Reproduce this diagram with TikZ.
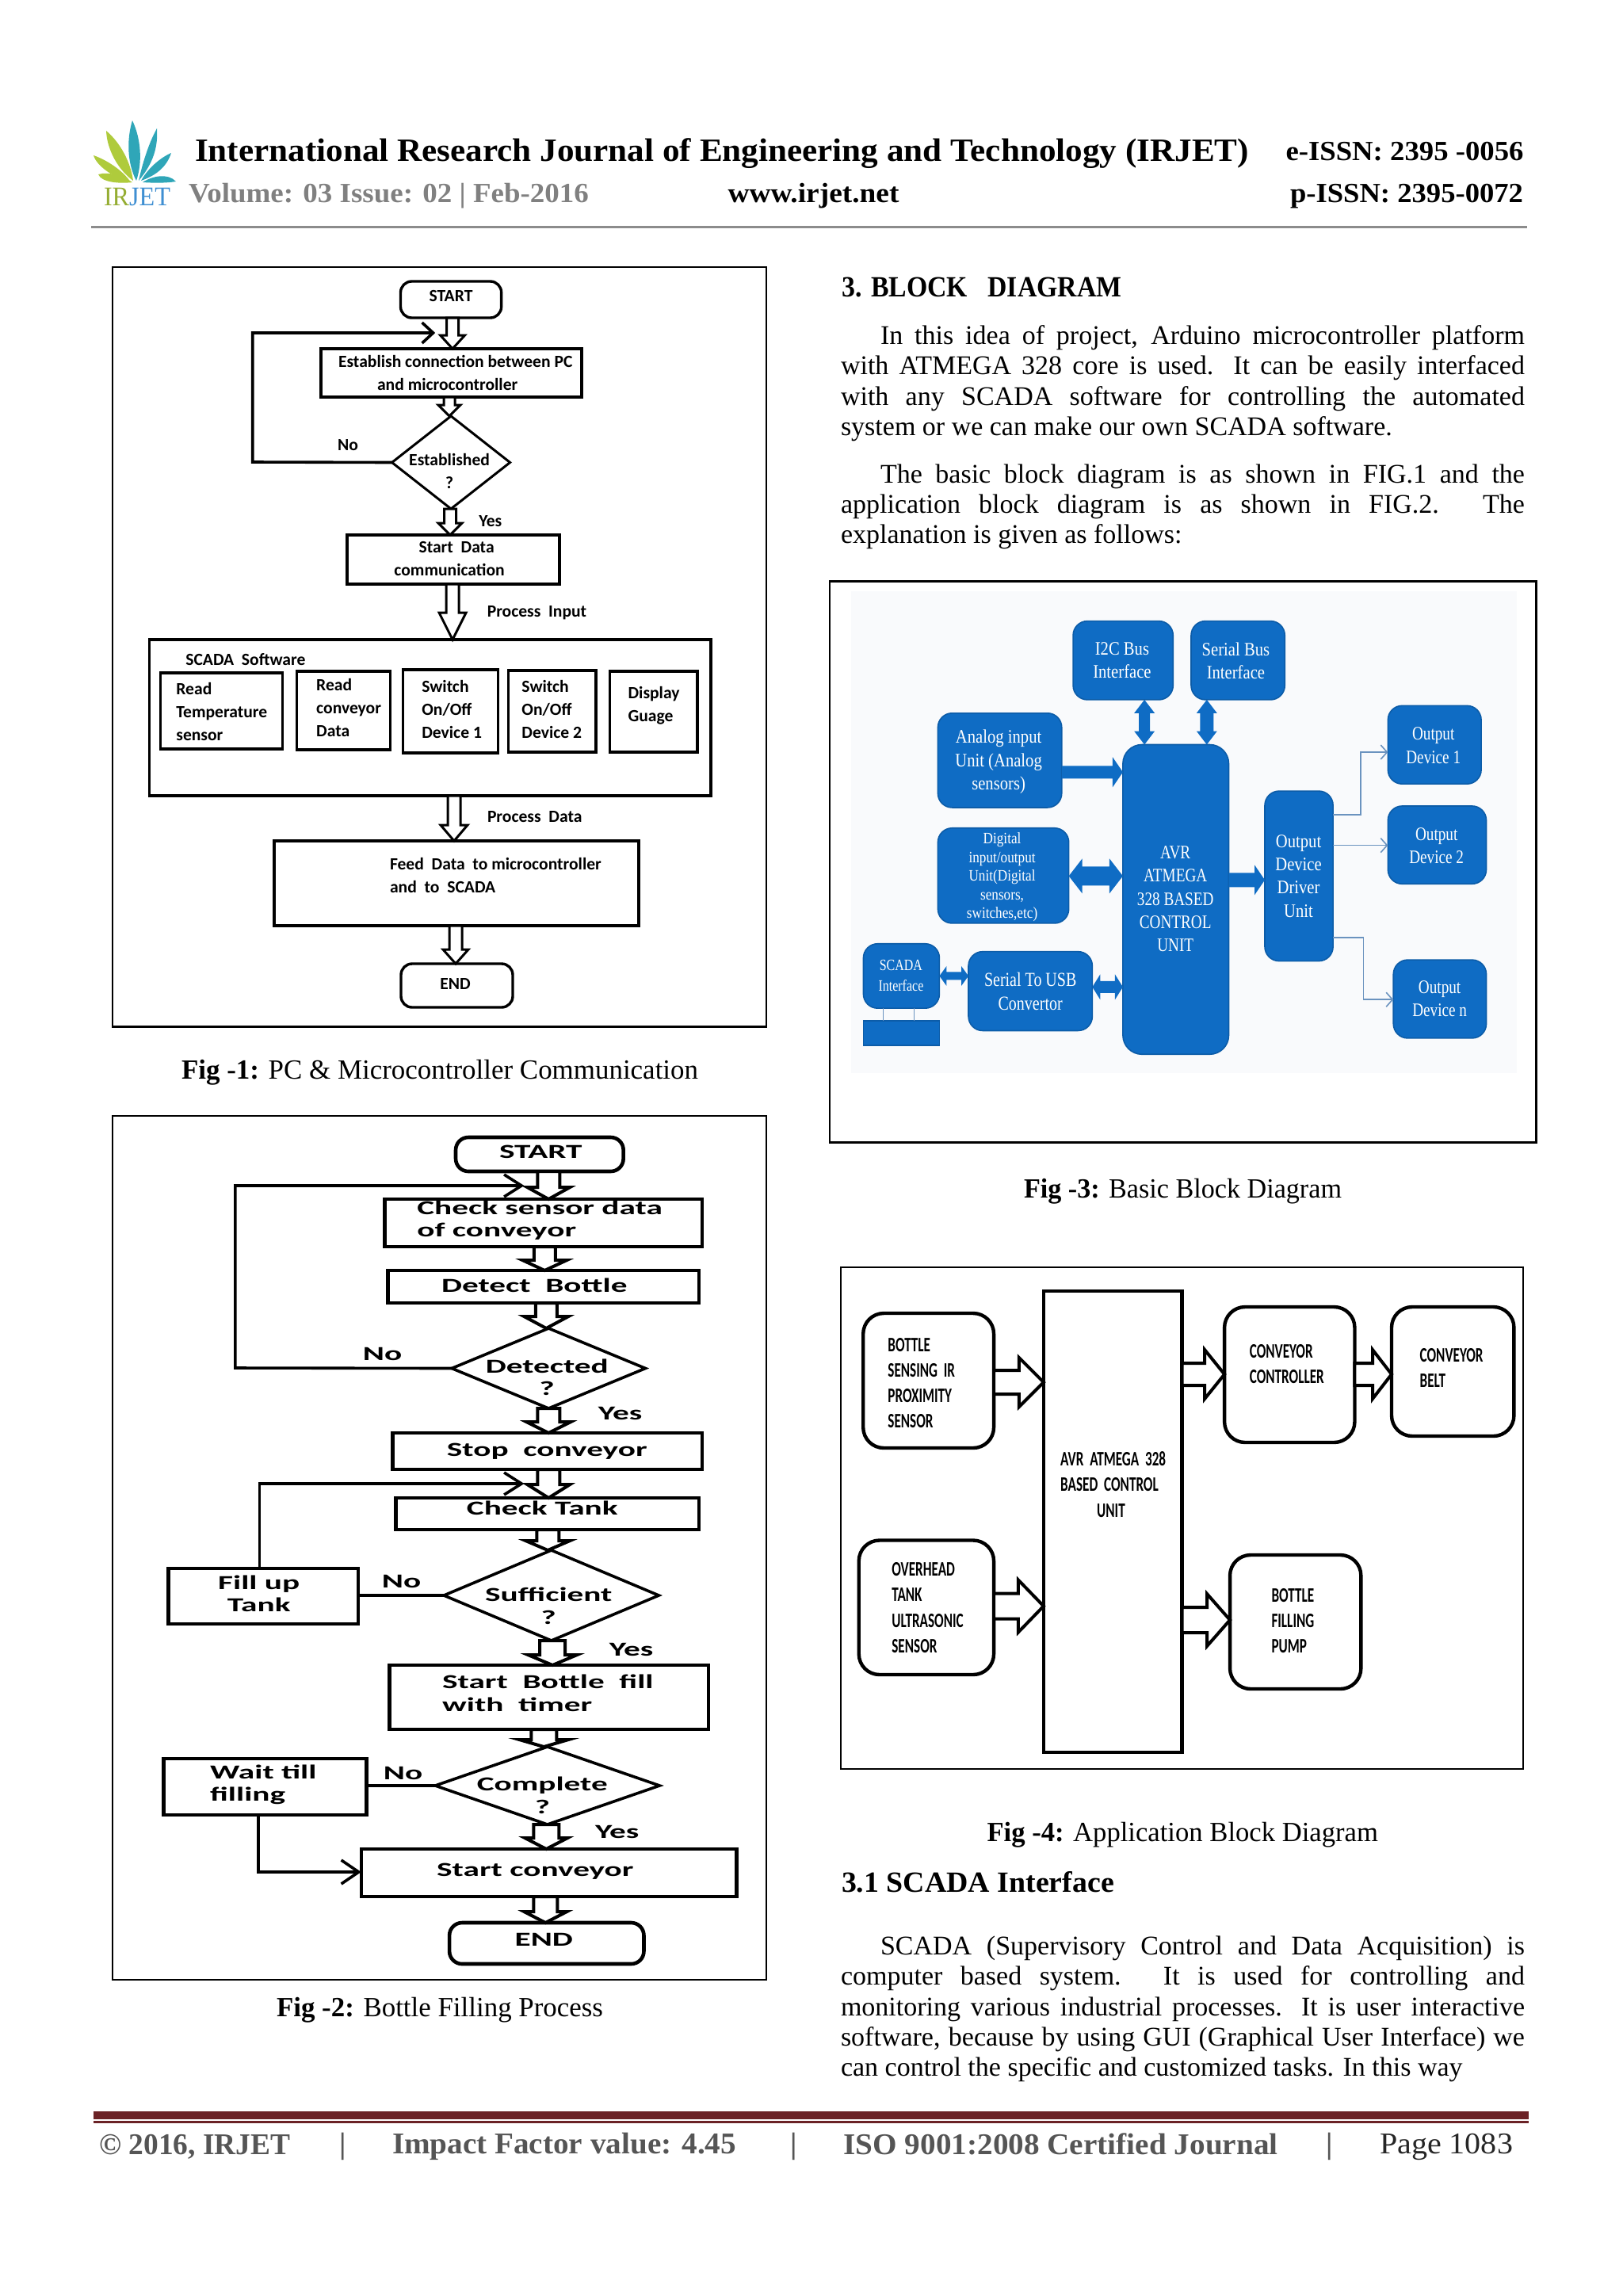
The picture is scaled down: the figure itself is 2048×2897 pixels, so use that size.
\documentclass[tikz,border=0pt]{standalone}
\usepackage{fontspec}
\usepackage{graphicx}
\usetikzlibrary{shapes.geometric,arrows.meta,calc}
\setmainfont{Liberation Serif}
\newfontfamily\fbody{Liberation Serif}
\newfontfamily\fa{Carlito}
\newfontfamily\fb{Carlito}[FakeStretch=1.65]
\newfontfamily\fc{Carlito}[FakeStretch=.66]
\newfontfamily\fd{Liberation Serif}[FakeStretch=.8]
\newfontfamily\fe{Liberation Serif}[FakeStretch=.86]
\definecolor{fblue}{HTML}{0F6CC4}
\definecolor{fbord}{HTML}{0C5CA8}
\definecolor{thinb}{HTML}{6B93BF}
\definecolor{hgray}{HTML}{808080}
\definecolor{fgray}{HTML}{555555}
\definecolor{band}{HTML}{6B2226}
\definecolor{tealg}{HTML}{2FA6B8}
\definecolor{leafg}{HTML}{AFCB3C}
\definecolor{irb}{HTML}{3F8FD2}
\definecolor{bgf}{HTML}{F9FAFC}
\newcounter{tc}
\def\kx{1}\def\ox{0}\def\ky{1}\def\oy{0}
\newcommand\mys{\vrule width 0pt height .84em depth .16em\relax}
\newcommand\bx[6][box]{%
 \pgfmathsetmacro\cxx{((#3+#5)/2*\kx+\ox)*.5}%
 \pgfmathsetmacro\cyy{-((#4+#6)/2*\ky+\oy)*.5}%
 \pgfmathsetmacro\bww{(#5-#3)*\kx*.5}%
 \pgfmathsetmacro\bhh{(#6-#4)*\ky*.5}%
 \node[#1,minimum width=\bww pt,minimum height=\bhh pt] (#2) at (\cxx pt,\cyy pt) {};}
\newcommand\tx[4][]{\stepcounter{tc}%
 \pgfmathsetmacro\tcx{(#2*\kx+\ox)*.5}\pgfmathsetmacro\tcy{-(#3*\ky+\oy)*.5}%
 \node[txt,#1] (t\arabic{tc}) at (\tcx pt,\tcy pt) {#4};}
\newcommand\cn[3]{%
 \pgfmathsetmacro\tcx{(#2*\kx+\ox)*.5}\pgfmathsetmacro\tcy{-(#3*\ky+\oy)*.5}%
 \coordinate (#1) at (\tcx pt,\tcy pt);}
% vertical block arrow: from,to,x,shaft half,head half,head length (px)
\newcommand\varrow[7][hollow]{%
 \pgfmathsetmacro\ax{(#4*\kx+\ox)*.5}\pgfmathsetmacro\bsw{#5*.5}\pgfmathsetmacro\bhw{#6*.5}\pgfmathsetmacro\bhl{#7*.5}%
 \draw[#1] let \p1=(#2.south),\p2=(#3.north) in
 (\ax pt-\bsw pt,\y1) -- (\ax pt+\bsw pt,\y1) -- (\ax pt+\bsw pt,\y2+\bhl pt) -- (\ax pt+\bhw pt,\y2+\bhl pt) -- (\ax pt,\y2) -- (\ax pt-\bhw pt,\y2+\bhl pt) -- (\ax pt-\bsw pt,\y2+\bhl pt) -- cycle;}
% horizontal block arrow: from,to,y,shaft half,head half,head length (px)
\newcommand\harrow[7][hollow]{%
 \pgfmathsetmacro\ay{-(#4*\ky+\oy)*.5}\pgfmathsetmacro\bsw{#5*.5}\pgfmathsetmacro\bhw{#6*.5}\pgfmathsetmacro\bhl{#7*.5}%
 \draw[#1] let \p1=(#2.east),\p2=(#3.west) in
 (\x1,\ay pt+\bsw pt) -- (\x2-\bhl pt,\ay pt+\bsw pt) -- (\x2-\bhl pt,\ay pt+\bhw pt) -- (\x2,\ay pt) -- (\x2-\bhl pt,\ay pt-\bhw pt) -- (\x2-\bhl pt,\ay pt-\bsw pt) -- (\x1,\ay pt-\bsw pt) -- cycle;}
\newcommand\dvarrow[6]{%
 \pgfmathsetmacro\ax{(#3*\kx+\ox)*.5}\pgfmathsetmacro\bsw{#4*.5}\pgfmathsetmacro\bhw{#5*.5}\pgfmathsetmacro\bhl{#6*.5}%
 \fill[fblue] let \p1=(#1.south),\p2=(#2.north) in
 (\ax pt,\y1) -- (\ax pt+\bhw pt,\y1-\bhl pt) -- (\ax pt+\bsw pt,\y1-\bhl pt) -- (\ax pt+\bsw pt,\y2+\bhl pt) -- (\ax pt+\bhw pt,\y2+\bhl pt) -- (\ax pt,\y2) -- (\ax pt-\bhw pt,\y2+\bhl pt) -- (\ax pt-\bsw pt,\y2+\bhl pt) -- (\ax pt-\bsw pt,\y1-\bhl pt) -- (\ax pt-\bhw pt,\y1-\bhl pt) -- cycle;}
\newcommand\dharrow[6]{%
 \pgfmathsetmacro\ay{-(#3*\ky+\oy)*.5}\pgfmathsetmacro\bsw{#4*.5}\pgfmathsetmacro\bhw{#5*.5}\pgfmathsetmacro\bhl{#6*.5}%
 \fill[fblue] let \p1=(#1.east),\p2=(#2.west) in
 (\x1,\ay pt) -- (\x1+\bhl pt,\ay pt+\bhw pt) -- (\x1+\bhl pt,\ay pt+\bsw pt) -- (\x2-\bhl pt,\ay pt+\bsw pt) -- (\x2-\bhl pt,\ay pt+\bhw pt) -- (\x2,\ay pt) -- (\x2-\bhl pt,\ay pt-\bhw pt) -- (\x2-\bhl pt,\ay pt-\bsw pt) -- (\x1+\bhl pt,\ay pt-\bsw pt) -- (\x1+\bhl pt,\ay pt-\bhw pt) -- cycle;}
\tikzset{
 x=.5pt,y=-.5pt,
 txt/.style={inner sep=0pt,outer sep=0pt,align=left,execute at begin node=\mys,execute at end node=\mys},
 framebox/.style={draw=black,line width=1.2pt,inner sep=0pt,outer sep=0pt,fill=none},
 box/.style={draw=black,line width=1.7pt,inner sep=0pt,outer sep=0pt},
 boxb/.style={draw=black,line width=2.3pt,inner sep=0pt,outer sep=0pt},
 rbox/.style={box,rounded corners=7pt},
 rboxb/.style={boxb,rounded corners=8pt},
 rboxc/.style={draw=black,line width=2.2pt,inner sep=0pt,outer sep=0pt,rounded corners=13pt},
 dia/.style={diamond,draw=black,line width=1.5pt,inner sep=0pt,outer sep=0pt},
 diab/.style={diamond,draw=black,line width=1.8pt,inner sep=0pt,outer sep=0pt},
 hollow/.style={draw=black,line width=1.5pt,fill=white,line join=miter},
 hollowb/.style={draw=black,line width=2pt,fill=white,line join=miter},
 conn/.style={draw=black,line width=1.8pt},
 bluebox/.style={draw=fbord,line width=.8pt,fill=fblue,rounded corners=9pt,inner sep=0pt,outer sep=0pt},
 blues/.style={draw=none,fill=fblue},
 thinc/.style={draw=thinb,line width=.8pt,-{Straight Barb[length=4pt,width=9pt]}},
 ta/.style={font=\fa\bfseries\fontsize{10.8}{14.5}\selectfont},
 tb/.style={font=\fb\bfseries\fontsize{12.5}{14.2}\selectfont},
 tc/.style={font=\fc\bfseries\fontsize{13}{16.1}\selectfont},
 td/.style={font=\fd\fontsize{12}{14.6}\selectfont,text=white,align=center,yshift=-2pt},
 te/.style={font=\fe\fontsize{12}{14.6}\selectfont,text=white,align=center,yshift=-2pt},
 bodytxt/.style={font=\fbody\fontsize{17}{19.17}\selectfont,anchor=west,text width=431.5pt,align=justify},
 captxt/.style={font=\fbody\fontsize{17.5}{20}\selectfont,anchor=west},
 hd/.style={font=\fbody\fontsize{18.5}{22}\selectfont\bfseries,anchor=west},
 hdr/.style={font=\fbody\fontsize{17.5}{20}\selectfont\bfseries,anchor=west},
 ftr/.style={font=\fbody\fontsize{19}{22}\selectfont\bfseries,anchor=west,text=fgray},
}
\newcommand\bodysetup{\spaceskip=.25em plus .6em minus .2em\relax\tolerance=10000\hbadness=10000\hfuzz=20pt\emergencystretch=0pt}
\begin{document}
\begin{tikzpicture}
\useasboundingbox (0,0) rectangle (2048,2897);
% ---- header: logo
\fill[tealg] (167,152) .. controls (160,175) and (160,205) .. (172,228) .. controls (180,205) and (178,175) .. (167,152) -- cycle;
\fill[tealg] (198,162) .. controls (188,180) and (180,205) .. (175,228) .. controls (190,210) and (200,190) .. (198,162) -- cycle;
\fill[tealg] (216,193) .. controls (200,200) and (185,215) .. (178,228) .. controls (195,222) and (210,212) .. (216,193) -- cycle;
\fill[leafg] (134,165) .. controls (135,190) and (150,215) .. (168,228) .. controls (165,205) and (152,180) .. (134,165) -- cycle;
\fill[leafg] (118,196) .. controls (122,210) and (145,225) .. (165,230) .. controls (155,215) and (135,202) .. (118,196) -- cycle;
\fill[leafg] (124,220) .. controls (128,230) and (150,232) .. (167,230) .. controls (155,222) and (138,216) .. (124,220) -- cycle;
\fill[tealg] (222,229) .. controls (212,218) and (192,222) .. (180,230) .. controls (195,231) and (210,231) .. (222,229) -- cycle;
\tx[anchor=west,font=\fbody\fontsize{17}{20}\selectfont]{131}{248}{\resizebox{42pt}{\height}{\textcolor{leafg!85!black}{IR}\textcolor{irb}{JET}}}
\tx[hdr,font=\fbody\fontsize{20.5}{24}\selectfont\bfseries]{246}{191}{\resizebox{665pt}{\height}{International Research Journal of Engineering and Technology (IRJET)}}
\tx[hdr]{1622.5}{191}{\resizebox{150pt}{\height}{e-ISSN: 2395 -0056}}
\tx[hdr,text=hgray]{238}{245}{\resizebox{252.5pt}{\height}{Volume: 03 Issue: 02 | Feb-2016}}
\tx[hdr]{918.5}{245}{\resizebox{108pt}{\height}{www.irjet.net}}
\tx[hdr]{1628}{245}{\resizebox{147pt}{\height}{p-ISSN: 2395-0072}}
\fill[gray!90] (115,285) rectangle (1927,288);
% ---- Figure 1
\bx[framebox]{fa}{142}{337}{967}{1295.5}
\def\kx{.9934}\def\ox{.86}
\bx[rbox]{fastart}{508}{355}{636}{401}
\tx[ta,align=center]{572}{373}{START}
\bx{faest}{407}{440}{738}{501}
\tx[ta,anchor=west]{429}{472}{Establish connection between PC\\\hspace*{24.5pt}and microcontroller}
\bx[dia]{fadia}{497}{525}{647}{642}
\tx[ta,align=center]{570}{596}{Established\\?}
\tx[ta]{441}{561}{No}
\bx{fadata}{440}{675}{710}{737}
\tx[ta,align=center]{570}{707}{\hspace*{9pt}Start\ \ Data\\communication}
\tx[ta]{622}{657}{Yes}
\tx[ta,anchor=west]{618}{771}{Process\ \ Input}
\bx{fascada}{189}{807}{902}{1004}
\tx[ta,anchor=west]{235}{832}{SCADA\ \ Software}
\bx{fa1}{203}{849}{358}{945}
\tx[ta,anchor=west]{223}{900}{Read\\Temperature\\sensor}
\bx{fa2}{376}{847}{495}{946}
\tx[ta,anchor=west]{401}{895}{Read\\conveyor\\Data}
\bx{fa3}{511}{845}{632}{950}
\tx[ta,anchor=west]{535}{897}{Switch\\On/Off\\Device 1}
\bx{fa4}{645}{846}{756}{949}
\tx[ta,anchor=west]{662}{897}{Switch\\On/Off\\Device 2}
\bx{fa5}{774}{847}{885}{949}
\tx[ta,anchor=west]{797}{890}{Display\\Guage}
\varrow{fastart}{faest}{574}{7.5}{15.5}{17}
\varrow{faest}{fadia}{570}{7}{14}{14}
\varrow{fadia}{fadata}{571}{7.5}{15}{15}
\varrow{fadata}{fascada}{574}{8}{17}{34}
\cn{fala}{320}{583}\cn{falb}{320}{420}\cn{falc}{552}{420}
\draw[conn,-{Straight Barb[length=7pt,width=13pt]}] (fadia.west) -- (fala) -- (falb) -- (falc);
\def\kx{1}\def\ox{0}
\tx[ta,anchor=west]{615}{1030}{Process\ \ Data}
\bx{fafeed}{346}{1061}{806}{1168}
\tx[ta,anchor=west]{492}{1106}{Feed\ \ Data\ \ to microcontroller\\and\ \ to\ \ SCADA}
\bx[rbox]{faend}{506}{1216}{647}{1271}
\tx[ta,align=center]{574.5}{1241}{END}
\varrow{fascada}{fafeed}{573}{8}{17}{20}
\varrow{fafeed}{faend}{575}{8}{16}{18}
\tx[captxt]{229}{1351}{\resizebox{326pt}{\height}{\textbf{Fig -1:} PC \& Microcontroller Communication}}
% ---- Figure 2
\bx[framebox]{fb}{142}{1408}{967}{2498}
\def\kx{.9934}\def\ox{.86}
\bx[rboxb]{fbstart}{578}{1435}{791}{1478}
\tx[tb,align=center]{686}{1453}{START}
\bx[boxb]{fbcheck}{488}{1513}{891}{1573}
\tx[tb,anchor=west]{529}{1540}{Check sensor data\\of conveyor}
\bx[boxb]{fbdetect}{492}{1603}{887}{1644}
\tx[tb,align=center]{678}{1622}{Detect\ \ Bottle}
\bx[diab]{fbdd}{573}{1676}{819}{1777}
\tx[tb,align=center]{694}{1740}{Detected\\?}
\tx[tb]{485}{1708}{No}
\tx[tb]{787}{1783}{Yes}
\bx[boxb]{fbstop}{498}{1808}{891}{1854}
\tx[tb,align=center]{694}{1829}{Stop\ \ conveyor}
\bx[boxb]{fbtank}{502}{1890}{887}{1930}
\tx[tb,align=center]{688}{1903}{Check Tank}
\bx[diab]{fbsuf}{563}{1956}{836}{2070}
\tx[tb,align=center]{696}{2028}{Sufficient\\?}
\bx[boxb]{fbfill}{213}{1979}{454}{2049}
\tx[tb,align=center]{328}{2013}{Fill up\\Tank}
\tx[tb]{509}{1995}{No}
\tx[tb]{801}{2081}{Yes}
\bx[boxb]{fbbottle}{494}{2101}{899}{2182}
\tx[tb,anchor=west]{561}{2138}{Start\ \ Bottle\ \ fill\\with\ \ timer}
\bx[diab]{fbcom}{552}{2204}{837}{2302}
\tx[tb,align=center]{688}{2267}{Complete\\?}
\bx[boxb]{fbwait}{207}{2219}{465}{2290}
\tx[tb,anchor=west]{266}{2252}{Wait till\\filling}
\tx[tb]{511}{2237}{No}
\tx[tb]{783}{2311}{Yes}
\bx[boxb]{fbconv}{458}{2333}{935}{2393}
\tx[tb,align=center]{679}{2359}{Start conveyor}
\bx[rboxb]{fbend}{570}{2426}{817}{2478}
\tx[tb,align=center]{690}{2447}{END}
\varrow[hollowb]{fbstart}{fbcheck}{696}{14}{27}{15}
\varrow[hollowb]{fbcheck}{fbdetect}{691}{13.5}{28}{13}
\varrow[hollowb]{fbdetect}{fbdd}{693}{13.5}{28}{15}
\varrow[hollowb]{fbdd}{fbstop}{696}{14}{28}{14}
\varrow[hollowb]{fbstop}{fbtank}{696}{14}{27}{17}
\varrow[hollowb]{fbtank}{fbsuf}{695}{14}{28}{12}
\varrow[hollowb]{fbsuf}{fbbottle}{701}{16}{31}{13}
\varrow[hollowb]{fbbottle}{fbcom}{690}{16}{31}{9}
\varrow[hollowb]{fbcom}{fbconv}{693}{16}{27}{14}
\varrow[hollowb]{fbconv}{fbend}{692}{15}{27}{14}
\cn{fbla}{298}{1726}\cn{fblb}{298}{1496}\cn{fblc}{665}{1496}
\draw[conn,-{Straight Barb[length=11pt,width=14pt]}] (fbdd.west) -- (fbla) -- (fblb) -- (fblc);
\cn{fbld}{329}{1872}\cn{fble}{665}{1872}
\draw[conn,-{Straight Barb[length=11pt,width=14pt]}] (fbld |- fbfill.north) -- (fbld) -- (fble);
\draw[conn] (fbsuf.west) -- (fbsuf.west -| fbfill.east);
\draw[conn] (fbcom.west) -- (fbcom.west -| fbwait.east);
\cn{fblf}{327}{2362}
\draw[conn,-{Straight Barb[length=11pt,width=15pt]}] (fblf |- fbwait.south) -- (fblf) -- (fblf -| fbconv.west);
% ---- Right column text
\def\kx{1}\def\ox{0}
\tx[captxt]{349}{2534}{\resizebox{206pt}{\height}{\textbf{Fig -2:} Bottle Filling Process}}
\tx[hd]{1062.5}{362}{\resizebox{176.5pt}{\height}{3. BLOCK\ \ \ DIAGRAM}}
\tx[bodytxt]{1061}{481.5}{\bodysetup\hspace*{25pt}In this idea of project, Arduino microcontroller platform\linebreak with ATMEGA 328 core is used. It can be easily interfaced\linebreak with any SCADA software for controlling the automated\linebreak system or we can make our own SCADA software.}
\tx[bodytxt]{1061}{637}{\bodysetup\hspace*{25pt}The basic block diagram is as shown in FIG.1 and the\linebreak application block diagram is as shown in FIG.2. The\linebreak explanation is given as follows:}
\tx[captxt]{1292}{1501}{\resizebox{200.5pt}{\height}{\textbf{Fig -3:} Basic Block Diagram}}
\tx[captxt]{1245.5}{2313}{\resizebox{246.7pt}{\height}{\textbf{Fig -4:} Application Block Diagram}}
\tx[hd]{1062}{2375}{\resizebox{172pt}{\height}{3.1 SCADA Interface}}
\tx[bodytxt]{1061}{2532.5}{\bodysetup\hspace*{25pt}SCADA (Supervisory Control and Data Acquisition) is\linebreak computer based system. It is used for controlling and\linebreak monitoring various industrial processes. It is user interactive\linebreak software, because by using GUI (Graphical User Interface) we\linebreak can control the specific and customized tasks. In this way}
% ---- Figure 3
\bx[framebox]{fc}{1047}{733.5}{1938.5}{1441.5}
\fill[bgf] (1074,746) rectangle (1914,1354);
\def\kx{.9894}\def\ox{11}\def\ky{.993}\def\oy{5.1}
\bx[bluebox]{fci2c}{1357.5}{784}{1485}{884}
\tx[te]{1420}{832}{I2C Bus\\Interface}
\bx[bluebox]{fcser}{1508}{784}{1627.5}{884}
\tx[te]{1565}{832}{Serial Bus\\Interface}
\bx[bluebox]{fcana}{1185}{901}{1343}{1021}
\tx[te]{1262.5}{959}{Analog input\\Unit (Analog\\sensors)}
\bx[bluebox]{fcdig}{1185}{1047}{1352}{1168}
\tx[te,font=\fe\fontsize{10}{11.8}\selectfont]{1267}{1105.5}{Digital\\input/output\\Unit(Digital\\sensors,\\switches,etc)}
\bx[bluebox]{fcsca}{1090}{1194}{1187}{1276}
\tx[td,font=\fd\fontsize{10}{12.8}\selectfont]{1138}{1232}{SCADA\\Interface}
\bx[bluebox,rounded corners=0pt]{fcmon}{1090}{1292}{1187}{1323}
\draw[thinb,line width=.5pt] (fcsca.south -| fcmon.west) ++(25,0) coordinate (fcs1) -- (fcs1 |- fcmon.north);
\draw[thinb,line width=.5pt] (fcsca.south -| fcmon.east) ++(-32,0) coordinate (fcs2) -- (fcs2 |- fcmon.north);
\bx[bluebox]{fcusb}{1224}{1204}{1382}{1304.5}
\tx[td,font=\fd\fontsize{12.5}{14.6}\selectfont]{1303}{1252.5}{Serial To USB\\Convertor}
\bx[bluebox,rounded corners=12pt]{fcavr}{1421}{941}{1556}{1334.5}
\tx[td]{1488}{1135}{AVR\\ATMEGA\\328 BASED\\CONTROL\\UNIT}
\bx[bluebox]{fcdrv}{1602}{1000}{1689}{1216}
\tx[te]{1645}{1106}{Output\\Device\\Driver\\Unit}
\bx[bluebox]{fco1}{1759}{891.5}{1878}{991}
\tx[td]{1817}{940}{Output\\Device 1}
\bx[bluebox]{fco2}{1759}{1019}{1884.5}{1118}
\tx[td]{1821}{1067}{Output\\Device 2}
\bx[bluebox]{fcon}{1766}{1214.5}{1884.5}{1314}
\tx[td]{1825}{1262}{Output\\Device n}
\dvarrow{fci2c}{fcavr}{1448.5}{7}{13}{17}
\dvarrow{fcser}{fcavr}{1528}{8.5}{13}{17}
\harrow[blues]{fcana}{fcavr}{976}{8}{19}{13}
\dharrow{fcdig}{fcavr}{1108}{12}{22}{17}
\harrow[blues]{fcavr}{fcdrv}{1113}{9}{19}{13}
\dharrow{fcsca}{fcusb}{1235}{5}{12.5}{9}
\dharrow{fcusb}{fcavr}{1249}{7.5}{16}{10}
\cn{fcc1}{1689}{1030}\cn{fcc2}{1724}{1030}\cn{fcc3}{1724}{950.6}
\draw[thinc] (fcc1) -- (fcc2) -- (fcc3) -- (fcc3 -| fco1.west);
\cn{fcc4}{1689}{1069}
\draw[thinc] (fcc4) -- (fcc4 -| fco2.west);
\cn{fcc5}{1689}{1186}\cn{fcc6}{1728}{1186}\cn{fcc7}{1728}{1265}
\draw[thinc] (fcc5) -- (fcc6) -- (fcc7) -- (fcc7 -| fcon.west);
% ---- Figure 4
\def\kx{1}\def\ox{0}\def\ky{1}\def\oy{0}
\bx[framebox]{fd}{1061}{1599}{1922}{2232}
\def\kx{.99}\def\ox{10.6}
\bx[rboxc]{fdbs}{1089.5}{1657}{1256}{1827}
\tx[tc,anchor=west]{1121}{1747}{BOTTLE\\SENSING\ \ IR\\PROXIMITY\\SENSOR}
\bx[boxb,line width=2.2pt]{fdavr}{1319.5}{1629}{1496}{2211}
\tx[tc,anchor=west]{1341}{1875}{AVR\ \ ATMEGA\ \ 328\\BASED\ \ CONTROL\\\hspace*{23pt}UNIT}
\bx[rboxc]{fdcc}{1550}{1649}{1716}{1820}
\tx[tc,anchor=west]{1582}{1723}{CONVEYOR\\CONTROLLER}
\bx[rboxc]{fdbelt}{1763}{1649}{1919}{1812}
\tx[tc,anchor=west]{1799}{1728}{CONVEYOR\\BELT}
\bx[rboxc]{fdov}{1084}{1943.5}{1256}{2113}
\tx[tc,anchor=west]{1126}{2030.5}{OVERHEAD\\TANK\\ULTRASONIC\\SENSOR}
\bx[rboxc]{fdpump}{1557}{1962}{1724}{2131}
\tx[tc,anchor=west]{1610}{2047}{BOTTLE\\FILLING\\PUMP}
\harrow[hollowb]{fdbs}{fdavr}{1744}{15}{31}{31}
\harrow[hollowb]{fdavr}{fdcc}{1734}{14}{31}{25}
\harrow[hollowb]{fdcc}{fdbelt}{1734}{14}{31}{24}
\harrow[hollowb]{fdov}{fdavr}{2026.5}{16}{33}{32}
\harrow[hollowb]{fdavr}{fdpump}{2044}{16}{33}{29}
% ---- footer
\def\kx{1}\def\ox{0}
\fill[band] (118,2664) rectangle (1929,2674);
\fill[band] (118,2676) rectangle (1929,2679);
\tx[ftr]{125.5}{2706}{\resizebox{120.5pt}{\height}{© 2016, IRJET}}
\tx[ftr]{428}{2706}{|}
\tx[ftr]{495}{2706}{\resizebox{217pt}{\height}{Impact Factor value: 4.45}}
\tx[ftr]{997}{2706}{|}
\tx[ftr]{1064.5}{2706}{\resizebox{274pt}{\height}{ISO 9001:2008 Certified Journal}}
\tx[ftr]{1673}{2706}{|}
\tx[ftr,font=\fbody\fontsize{19}{22}\selectfont,text=black!85]{1741}{2706}{\resizebox{84pt}{\height}{Page 1083}}
\end{tikzpicture}
\end{document}
